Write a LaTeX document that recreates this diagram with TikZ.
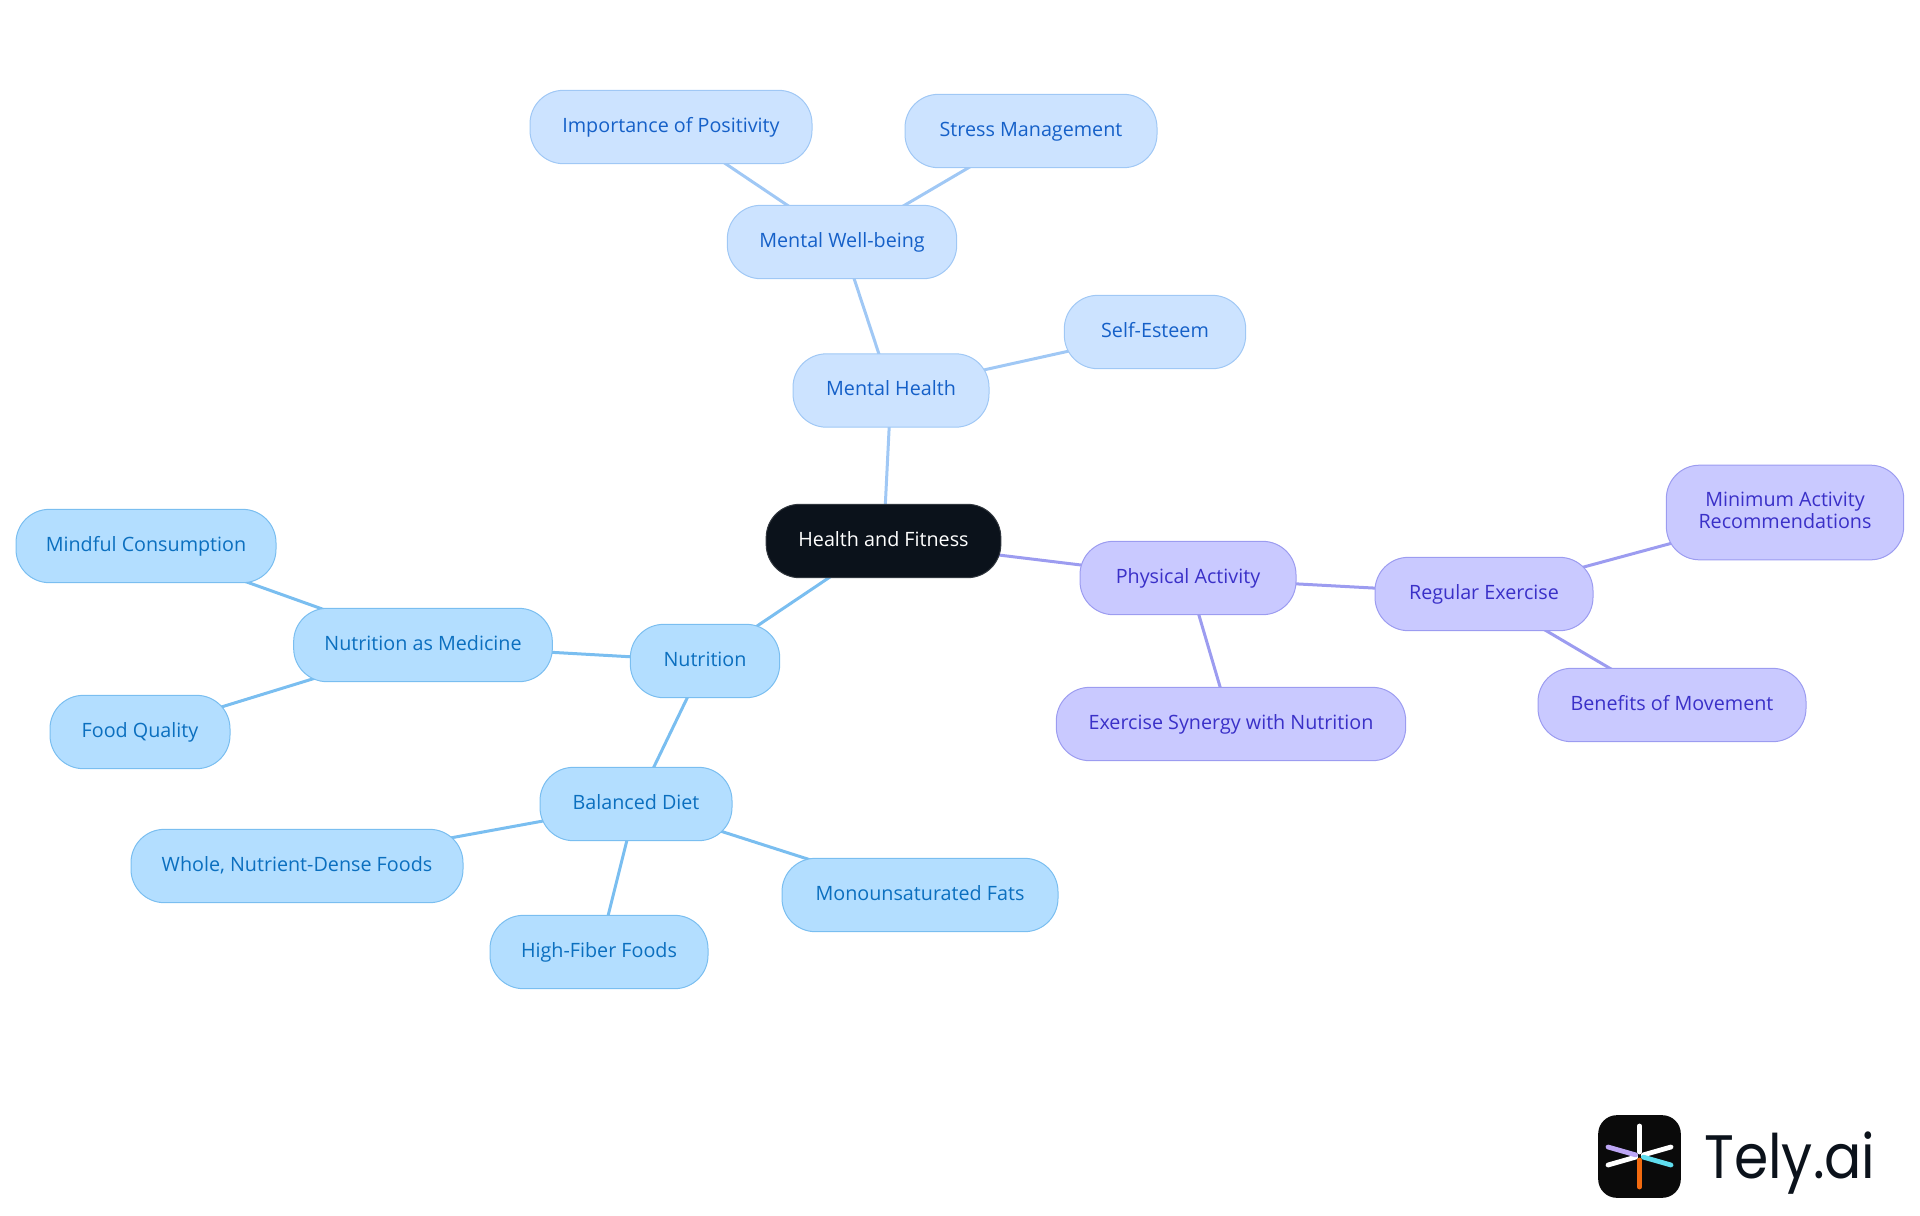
\documentclass[tikz,border=0pt]{standalone}
\usepackage{fontspec}
\setmainfont{Open Sans}
\newfontfamily\logofont[FakeStretch=0.9]{Poppins}
\usetikzlibrary{backgrounds}
\definecolor{rootfill}{HTML}{0B121B}
\definecolor{nutfill}{HTML}{B3DEFF}
\definecolor{nutline}{HTML}{7ABEF0}
\definecolor{nuttext}{HTML}{0B6FBF}
\definecolor{menfill}{HTML}{CCE3FF}
\definecolor{menline}{HTML}{A0C8F5}
\definecolor{mentext}{HTML}{1560C8}
\definecolor{phyfill}{HTML}{C9C9FF}
\definecolor{phyline}{HTML}{9C9CF0}
\definecolor{phytext}{HTML}{3A30C8}
\definecolor{logoorange}{HTML}{F26A0F}
\definecolor{logopurple}{HTML}{BDA6F5}
\definecolor{logocyan}{HTML}{5FDDEE}

\begin{document}
\begin{tikzpicture}[x=0.75pt,y=-0.75pt,
  font=\fontsize{14.8}{16.5}\selectfont,
  tk/.style={draw,line width=0.75pt,rounded corners=25pt,minimum height=55pt,inner sep=0pt,align=center,text height=11pt,text depth=3.5pt},
  root/.style={tk,fill=rootfill,draw=rootfill!85!white,text=white},
  nut/.style={tk,fill=nutfill,draw=nutline,text=nuttext},
  men/.style={tk,fill=menfill,draw=menline,text=mentext},
  phy/.style={tk,fill=phyfill,draw=phyline,text=phytext},
  nutar/.style={draw=nutline,line width=2.25pt},
  menar/.style={draw=menline,line width=2.25pt},
  phyar/.style={draw=phyline,line width=2.25pt},
  spoke/.style={line width=3.6pt,line cap=round,shorten <=3pt}]
\useasboundingbox (0,0) rectangle (1920,1215);

\node[root,minimum width=176pt] (root) at (883.5,541) {Health and Fitness};

\node[men,minimum width=147pt] (mental) at (891,390.5) {Mental Health};
\node[men,minimum width=172pt] (wellbeing) at (842,242) {Mental Well-being};
\node[men,minimum width=211.5pt] (positivity) at (671,127) {Importance of Positivity};
\node[men,minimum width=189pt] (stress) at (1031,131) {Stress Management};
\node[men,minimum width=136pt] (esteem) at (1155,332) {Self-Esteem};

\node[phy,minimum width=162pt] (physical) at (1188,578) {Physical Activity};
\node[phy,minimum width=163.5pt] (regular) at (1484,594) {Regular Exercise};
\node[phy,minimum width=178pt,minimum height=71pt,text height=27.5pt] (minimum) at (1785,512.5) {Minimum Activity\\Recommendations};
\node[phy,minimum width=201pt] (benefits) at (1672,705) {Benefits of Movement};
\node[phy,minimum width=262pt] (synergy) at (1231,724) {Exercise Synergy with Nutrition};

\node[nut,minimum width=112pt] (nutrition) at (705,661) {Nutrition};
\node[nut,minimum width=194pt] (medicine) at (423,645) {Nutrition as Medicine};
\node[nut,minimum width=195pt] (mindful) at (146,546) {Mindful Consumption};
\node[nut,minimum width=135pt] (quality) at (140,732) {Food Quality};
\node[nut,minimum width=144pt] (balanced) at (636,804) {Balanced Diet};
\node[nut,minimum width=249pt] (whole) at (297,866) {Whole, Nutrient-Dense Foods};
\node[nut,minimum width=163.5pt] (fiber) at (599,952) {High-Fiber Foods};
\node[nut,minimum width=207pt] (mono) at (920,895) {Monounsaturated Fats};

\begin{scope}[on background layer]
\draw[menar] (root.center)--(mental.center); \draw[menar] (mental.center)--(wellbeing.center);
\draw[menar] (wellbeing.center)--(positivity.center); \draw[menar] (wellbeing.center)--(stress.center);
\draw[menar] (mental.center)--(esteem.center);
\draw[phyar] (root.center)--(physical.center); \draw[phyar] (physical.center)--(regular.center);
\draw[phyar] (regular.center)--(minimum.center); \draw[phyar] (regular.center)--(benefits.center);
\draw[phyar] (physical.center)--(synergy.center);
\draw[nutar] (root.center)--(nutrition.center); \draw[nutar] (nutrition.center)--(medicine.center);
\draw[nutar] (medicine.center)--(mindful.center); \draw[nutar] (medicine.center)--(quality.center);
\draw[nutar] (nutrition.center)--(balanced.center); \draw[nutar] (balanced.center)--(whole.center);
\draw[nutar] (balanced.center)--(fiber.center); \draw[nutar] (balanced.center)--(mono.center);
\end{scope}

% logo
\node[fill=black!96,rounded corners=14pt,minimum width=62pt,minimum height=62pt,inner sep=0pt] (logobox) at (1639.5,1156.5) {};
\coordinate (hub) at (1639.5,1156);
\draw[spoke,white] (hub)--(1639.5,1126);
\draw[spoke,white] (hub)--(1671,1147);
\draw[spoke,white] (hub)--(1608,1165);
\draw[spoke,logopurple] (hub)--(1608,1147);
\draw[spoke,logocyan] (hub)--(1671,1165);
\draw[spoke,logoorange] (hub)--(1639.5,1187);
\node[font=\logofont\fontsize{46}{46}\selectfont,text=rootfill,inner sep=0pt,anchor=base west] (tely) at (1704,1178) {Tely.ai};
\end{tikzpicture}
\end{document}
